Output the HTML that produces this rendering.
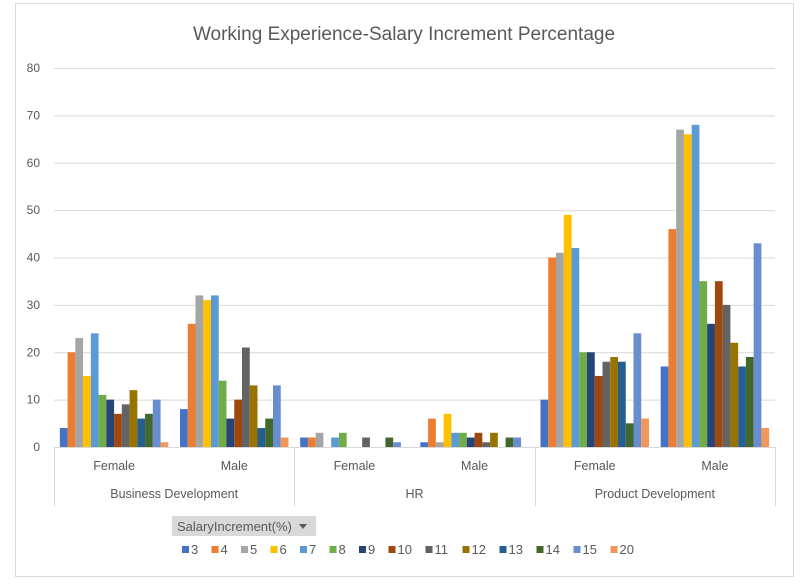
<!DOCTYPE html>
<html><head><meta charset="utf-8"><style>
body{margin:0;background:#fff;font-family:"Liberation Sans",sans-serif;}
svg text{font-family:"Liberation Sans",sans-serif;fill:#595959;}
</style></head><body>
<svg id="c" width="802" height="582">
<rect x="15.5" y="3.5" width="778" height="573" fill="#fff" stroke="#d9d9d9"/>
<text x="404" y="40" font-size="19" text-anchor="middle">Working Experience-Salary Increment Percentage</text>
<g id="grid"></g><g id="bars"></g><g id="xaxis"></g>
<rect x="172" y="516" width="144" height="20" fill="#d9d9d9"/>
<text x="177" y="531" font-size="13" fill="#404040">SalaryIncrement(%)</text>
<path d="M299 524 l8 0 l-4 5z" fill="#595959"/>
<g id="legend"></g>
</svg>
<script>
const series=["3","4","5","6","7","8","9","10","11","12","13","14","15","20"];
const colors=["#4472C4","#ED7D31","#A5A5A5","#FFC000","#5B9BD5","#70AD47","#264478","#9E480E","#636363","#997300","#255E91","#43682B","#698ED0","#F1975A"];
const departments=["Business Development","HR","Product Development"];
const genders=["Female","Male"];
const yTicks=[0,10,20,30,40,50,60,70,80];
const bdFemale=[4,20,23,15,24,11,10,7,9,12,6,7,10,1];
const bdMale=[8,26,32,31,32,14,6,10,21,13,4,6,13,2];
const hrFemale=[2,2,3,0,2,3,0,0,2,0,0,2,1,0];
const hrMale=[1,6,1,7,3,3,2,3,1,3,0,2,2,0];
const pdFemale=[10,40,41,49,42,20,20,15,18,19,18,5,24,6];
const pdMale=[17,46,67,66,68,35,26,35,30,22,17,19,43,4];
const groups=[bdFemale,bdMale,hrFemale,hrMale,pdFemale,pdMale];
const NS="http://www.w3.org/2000/svg";
const L=54,R=775,B=447,T=68,yMax=80;
const y=v=>B-(v/yMax)*(B-T);
const gw=(R-L)/groups.length, bw=7.75, pad=(gw-bw*series.length)/2;
function mk(p,tag,a){const e=document.createElementNS(NS,tag);for(const k in a)e.setAttribute(k,a[k]);document.getElementById(p).appendChild(e);return e;}
yTicks.forEach(t=>{
 const l=mk('grid','line',{x1:L,x2:R,y1:y(t)+.5,y2:y(t)+.5,stroke:'#d9d9d9'});
 
 
 const tx=mk('grid','text',{x:40,y:y(t)+4,'font-size':12,'text-anchor':'end'});tx.textContent=t;
 
 
});
groups.forEach((g,gi)=>{g.forEach((v,si)=>{
 const r=mk('bars','rect',{x:L+gi*gw+pad+si*bw,y:y(v),width:bw,height:B-y(v),fill:colors[si]});
 
 
});});
for(let i=0;i<=departments.length;i++){const x=Math.round(L+i*2*gw)+.5;
 const l=mk('xaxis','line',{x1:x,x2:x,y1:B,y2:506,stroke:'#d9d9d9'});
 
 }
groups.forEach((g,gi)=>{const t=mk('xaxis','text',{x:L+gi*gw+gw/2,y:470,'font-size':12.5,'text-anchor':'middle'});t.textContent=genders[gi%2];
 
 });
departments.forEach((d,di)=>{const t=mk('xaxis','text',{x:L+di*2*gw+gw,y:498,'font-size':12.5,'text-anchor':'middle'});t.textContent=d;
 
 });
let lx=182;
series.forEach((s,si)=>{
 const r=mk('legend','rect',{x:lx,y:546,width:7,height:7,fill:colors[si]});
 
 
 const t=mk('legend','text',{x:lx+9,y:554,'font-size':13});t.textContent=s;
 
 
 lx+=9+s.length*7.5+13;
});
</script>
</body></html>
